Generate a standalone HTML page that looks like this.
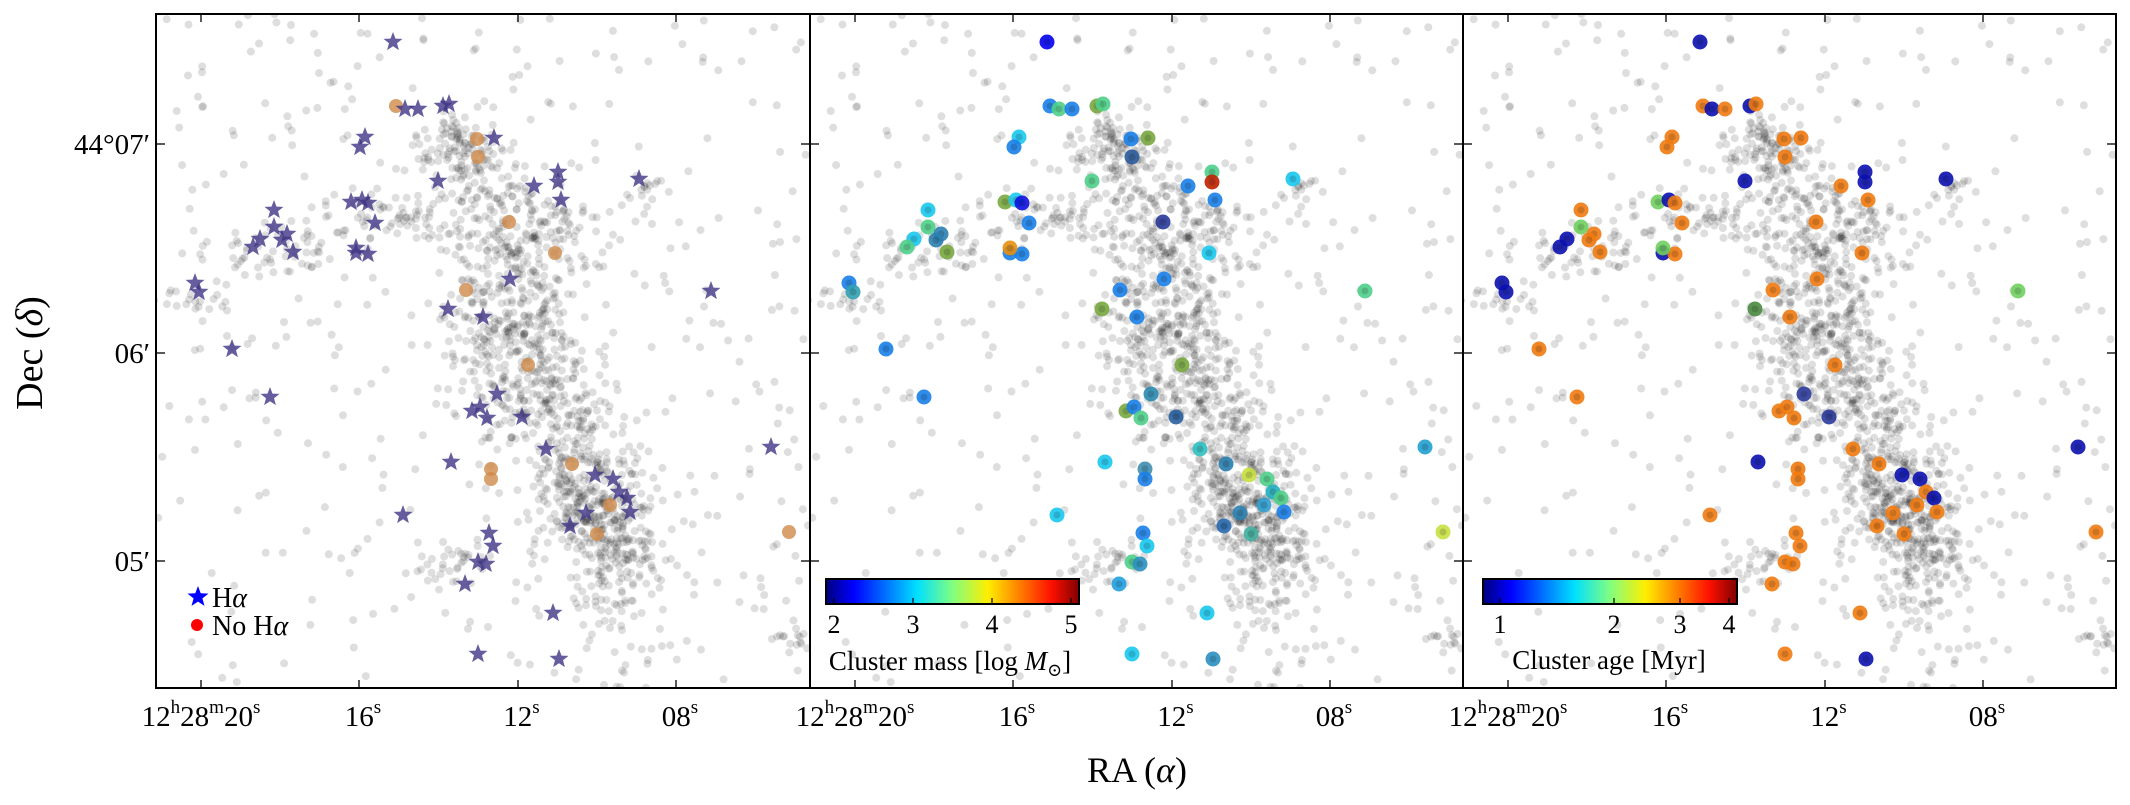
<!DOCTYPE html>
<html><head><meta charset="utf-8">
<style>
html,body{margin:0;padding:0;background:#fff;}
svg{display:block;}
text{font-family:"Liberation Serif","DejaVu Serif",serif;fill:#000;}
</style></head>
<body>
<svg id="s" width="2130" height="805" viewBox="0 0 2130 805" xmlns="http://www.w3.org/2000/svg">
<defs>
<linearGradient id="jet" x1="0" x2="1" y1="0" y2="0">
<stop offset="0" stop-color="#000080"/><stop offset="0.11" stop-color="#0000ff"/>
<stop offset="0.36" stop-color="#00e0ff"/><stop offset="0.5" stop-color="#80ff80"/>
<stop offset="0.64" stop-color="#ffee00"/><stop offset="0.89" stop-color="#ff1000"/>
<stop offset="1" stop-color="#800000"/></linearGradient>
<clipPath id="c0"><rect x="156" y="14" width="654" height="674"/></clipPath>
<clipPath id="c1"><rect x="810" y="14" width="653" height="674"/></clipPath>
<clipPath id="c2"><rect x="1463" y="14" width="653" height="674"/></clipPath>
</defs>
<g id="p0" clip-path="url(#c0)"></g>
<g id="p1" clip-path="url(#c1)"></g>
<g id="p2" clip-path="url(#c2)"></g>
<g id="axes" stroke="#000" fill="none"></g>
<g id="labels" font-size="29"></g>

<polygon id="legstar" fill="#0000ff"/>
<circle cx="197" cy="625" r="6" fill="#ff0000"/>
<text x="212" y="607" font-size="28">H<tspan font-style="italic">α</tspan></text>
<text x="212" y="635" font-size="28">No H<tspan font-style="italic">α</tspan></text>

<rect x="826" y="579" width="253" height="25" fill="url(#jet)" stroke="#000" stroke-width="2"/>
<g stroke="#000" stroke-width="1.2"><line x1="834" y1="604" x2="834" y2="598"/><line x1="913" y1="604" x2="913" y2="598"/><line x1="992" y1="604" x2="992" y2="598"/><line x1="1071" y1="604" x2="1071" y2="598"/></g>
<g font-size="26" text-anchor="middle"><text x="834" y="633">2</text><text x="913" y="633">3</text><text x="992" y="633">4</text><text x="1071" y="633">5</text></g>
<text x="950" y="670" font-size="27" text-anchor="middle">Cluster mass [log <tspan font-style="italic">M</tspan><tspan font-size="18" dy="6">⊙</tspan><tspan dy="-6">]</tspan></text>

<rect x="1483" y="579" width="254" height="25" fill="url(#jet)" stroke="#000" stroke-width="2"/>
<g stroke="#000" stroke-width="1.2"><line x1="1500" y1="604" x2="1500" y2="598"/><line x1="1614" y1="604" x2="1614" y2="598"/><line x1="1680" y1="604" x2="1680" y2="598"/><line x1="1729" y1="604" x2="1729" y2="598"/></g>
<g font-size="26" text-anchor="middle"><text x="1500" y="633">1</text><text x="1614" y="633">2</text><text x="1680" y="633">3</text><text x="1729" y="633">4</text></g>
<text x="1609" y="669" font-size="27" text-anchor="middle">Cluster age [Myr]</text>

<text x="1137" y="782" font-size="36" text-anchor="middle">RA (<tspan font-style="italic">α</tspan>)</text>
<text transform="translate(42,353) rotate(-90)" font-size="38" text-anchor="middle">Dec (<tspan font-style="italic">δ</tspan>)</text>
</svg>
<script>
(function(){
var NS="http://www.w3.org/2000/svg";
function el(n,a,p){var e=document.createElementNS(NS,n);for(var k in a)e.setAttribute(k,a[k]);p.appendChild(e);return e;}
var seed=12345;function rnd(){seed=(seed*16807)%2147483647;return (seed-1)/2147483646;}
function gauss(){var u=rnd()||1e-9,v=rnd();return Math.sqrt(-2*Math.log(u))*Math.cos(2*Math.PI*v);}
var pts=[];
for(var i=0;i<650;i++){var t=rnd();var cx=300+(470-300)*t+gauss()*28;var cy=130+(560-130)*t+gauss()*22;
 cx+= (t<0.25? 20*Math.sin(t*12):0);pts.push([cx,cy]);}
var clumps=[[300,130,22,16,80],[400,215,28,22,90],[330,320,28,28,90],[360,380,32,32,110],[440,470,28,22,100],[445,520,32,28,120],[300,550,15,12,30],[470,600,25,40,60],[270,200,20,15,20],[120,235,40,15,60],[220,205,40,12,50],[40,290,20,8,20],[640,620,10,10,12],[480,180,10,12,15]];
clumps.forEach(function(c){for(var j=0;j<c[4];j++)pts.push([c[0]+gauss()*c[2],c[1]+gauss()*c[3]]);});
for(var i=0;i<420;i++){var x=rnd()*654,y=rnd()*674;var d=Math.abs((x-300)-(y-130)*0.4);if(rnd()<0.35&&d>250)continue;pts.push([x,y]);}
var offs=[156,810,1463];
offs.forEach(function(o,k){var g=document.getElementById('p'+k);
 pts.forEach(function(p){el('circle',{cx:(o+p[0]).toFixed(1),cy:(14+p[1]).toFixed(1),r:4,fill:'#000','fill-opacity':0.13},g);});});
var B='#1a7fe8',C='#18c8ee',G='#4fcf8a',O='#78a840',N='#2a3a9a',Y='#c8e040';
var AB='#0a10b0',AO='#f07a10',AG='#70d060';
var cl=[
[237,42,0,'#0000ee',AB],[240,106,1,B,AO],[249,109,0,G,AB],[262,109,0,B,AO],[287,106,0,O,AB],[293,104,0,G,AO],
[321,139,1,B,AO],[338,138,0,O,AO],[322,157,1,'#2a5a9a',AO],[209,137,0,C,AO],[204,147,0,B,AO],[282,181,0,G,AB],
[378,186,0,B,AO],[402,172,0,G,AB],[402,182,0,'#c02000',AB],[483,179,0,C,AB],[405,200,0,B,AO],[353,222,1,N,AO],
[195,202,0,O,AG],[206,200,0,C,AB],[212,203,0,'#1010e0',AO],[219,223,0,B,AO],[118,210,0,C,AO],
[118,227,0,G,AG],[131,234,0,'#2a80b0',AO],[104,239,0,C,AB],[97,247,0,G,AB],[126,240,0,'#2a80b0',AO],[137,252,0,O,AO],
[200,253,0,B,AB],[212,254,0,B,AO],[200,248,0,'#e89010',AG],[399,253,1,C,AO],[354,279,0,B,AO],[310,290,1,B,AO],[555,291,0,G,AG],
[39,283,0,B,AB],[43,292,0,'#30a0b0',AB],[292,309,0,O,'#4a8a40'],[327,317,0,B,AO],[76,349,0,B,AO],[114,397,0,B,AO],
[372,365,1,O,AO],[341,394,0,'#2a8ab0',N],[316,411,0,O,AO],[324,407,0,B,AO],[331,418,0,G,AO],[366,417,0,'#2a60a0',N],
[390,449,0,'#30c0c0',AO],[615,447,0,'#20a0d0',AB],[295,462,0,C,AB],[416,464,1,'#2a80b0',AO],[335,469,1,'#4090b0',AO],[335,479,1,B,AO],
[439,475,0,Y,AB],[457,479,0,G,AB],[463,492,0,'#20b0c0',AO],[471,498,0,G,AB],[474,512,0,B,AO],[454,505,1,'#30a0d0',AO],
[430,513,0,'#2a80b0',AO],[414,526,0,'#2a6ab0',AO],[441,534,1,'#40b0a0',AO],[633,532,1,Y,AO],[247,515,0,C,AO],
[333,533,0,B,AO],[337,546,0,C,AO],[322,562,0,G,AO],[330,564,0,'#2a90c0',AO],[309,584,0,'#20a0e0',AO],[397,613,0,C,AO],
[322,654,0,C,AO],[403,659,0,'#2a90c0',AB]];
function star(cx,cy,R){var r=R*0.42,s=[];for(var i=0;i<10;i++){var a=-Math.PI/2+i*Math.PI/5,rr=i%2?r:R;s.push((cx+rr*Math.cos(a)).toFixed(1)+','+(cy+rr*Math.sin(a)).toFixed(1));}return s.join(' ');}
var g0=document.getElementById('p0'),g1=document.getElementById('p1'),g2=document.getElementById('p2');
cl.forEach(function(c){if(c[2]==1)el('circle',{cx:156+c[0],cy:c[1],r:7,fill:'#d08a48','fill-opacity':0.8},g0);});
cl.forEach(function(c){if(c[2]==0)el('polygon',{points:star(156+c[0],c[1],10),fill:'#3f3485','fill-opacity':0.8},g0);});
cl.forEach(function(c){el('circle',{cx:810+c[0],cy:c[1],r:7.5,fill:c[3],'fill-opacity':0.9},g1);el('circle',{cx:810+c[0],cy:c[1],r:3.5,fill:'#000','fill-opacity':0.15},g1);});
cl.forEach(function(c){el('circle',{cx:1463+c[0],cy:c[1],r:7.5,fill:c[4],'fill-opacity':0.9},g2);el('circle',{cx:1463+c[0],cy:c[1],r:3.5,fill:'#000','fill-opacity':0.15},g2);});
document.getElementById('legstar').setAttribute('points',star(198,597,11));
var ax=document.getElementById('axes'),lb=document.getElementById('labels');
offs.forEach(function(o,k){var w=(k==0?654:653);
 el('rect',{x:o,y:14,width:w,height:674,'stroke-width':2},ax);
 [45,203,362,520].forEach(function(dx){var x=o+dx;el('line',{x1:x,y1:688,x2:x,y2:680,'stroke-width':1.3},ax);el('line',{x1:x,y1:14,x2:x,y2:22,'stroke-width':1.3},ax);});
 [144,353,561].forEach(function(y){el('line',{x1:o,y1:y,x2:o+9,y2:y,'stroke-width':1.3},ax);el('line',{x1:o+w,y1:y,x2:o+w-9,y2:y,'stroke-width':1.3},ax);});
 var t=el('text',{x:o+45,y:726,'text-anchor':'middle'},lb);
 t.innerHTML='12<tspan font-size="19" dy="-13">h</tspan><tspan dy="13">28</tspan><tspan font-size="19" dy="-13">m</tspan><tspan dy="13">20</tspan><tspan font-size="19" dy="-13">s</tspan>';
 ['16','12','08'].forEach(function(s,i){var t2=el('text',{x:o+203+i*158.5+4,y:726,'text-anchor':'middle'},lb);t2.innerHTML=s+'<tspan font-size="19" dy="-13">s</tspan>';});
});
[['44°07′',144],['06′',353],['05′',561]].forEach(function(a){var t=el('text',{x:150,y:a[1]+10,'text-anchor':'end'},lb);t.textContent=a[0];});
})();
</script>
</body></html>
